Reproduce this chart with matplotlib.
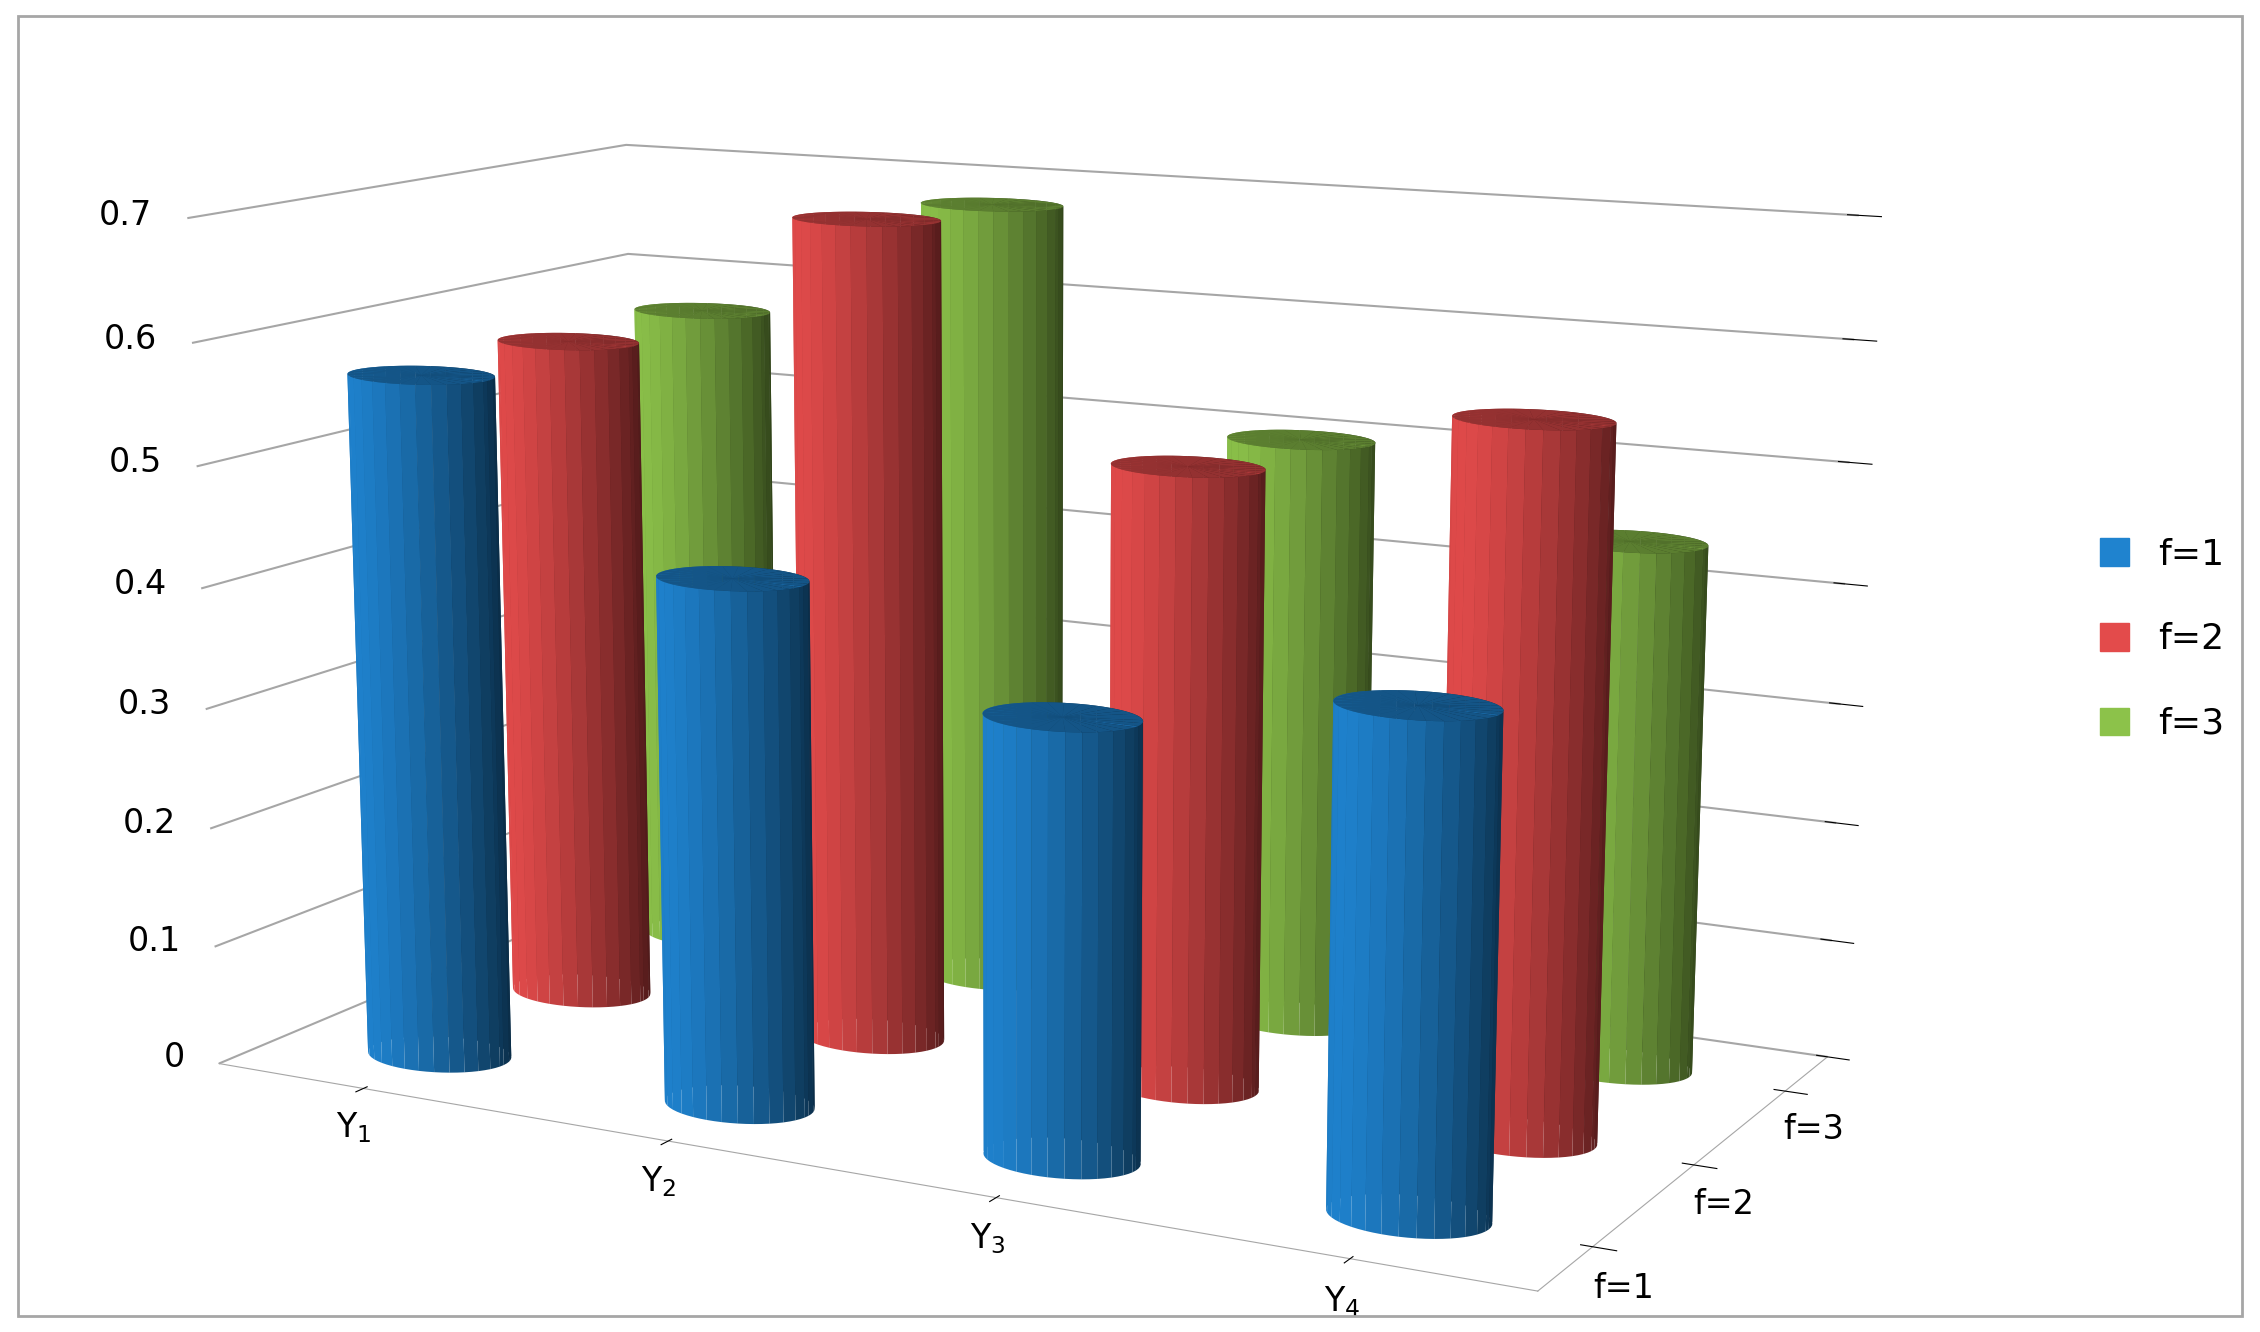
import numpy as np
import matplotlib
matplotlib.use("Agg")
import matplotlib.pyplot as plt
from matplotlib.patches import Patch, Rectangle

categories = ["Y$_1$", "Y$_2$", "Y$_3$", "Y$_4$"]
series = ["f=1", "f=2", "f=3"]
f1 = [0.57, 0.43, 0.35, 0.39]
f2 = [0.57, 0.69, 0.51, 0.57]
f3 = [0.57, 0.68, 0.50, 0.44]
colors = ["#1f83cf", "#e34b4b", "#8cc24a"]
yticks = [0, 0.1, 0.2, 0.3, 0.4, 0.5, 0.6, 0.7]

fig = plt.figure(figsize=(22.6, 13.32), dpi=100)
ax = fig.add_axes([-0.02, -0.04, 0.93, 1.08], projection="3d")
ax.set_proj_type("persp", focal_length=0.6)

def cylinder(cx, cy, h, color, r=0.22):
    th = np.linspace(0, 2*np.pi, 60)
    z = np.array([0, h])
    T, Z = np.meshgrid(th, z)
    X = cx + r*np.cos(T)
    Y = cy + r*np.sin(T)
    ax.plot_surface(X, Y, Z, color=color, shade=True, linewidth=0, antialiased=True)
    rr = np.array([0, r])
    R, T2 = np.meshgrid(rr, th)
    ax.plot_surface(cx + R*np.cos(T2), cy + R*np.sin(T2), np.full_like(R, h),
                    color=color, shade=True, linewidth=0)

data = [f1, f2, f3]
for j in reversed(range(3)):
    for i in range(4):
        cylinder(i, j, data[j][i], colors[j])

ax.set_xlim(-0.5, 3.5)
ax.set_ylim(-0.5, 2.5)
ax.set_zlim(0, 0.7)
ax.set_xticks(range(4))
ax.set_xticklabels(categories, fontsize=24)
ax.set_yticks(range(3))
ax.set_yticklabels(series, fontsize=24)
ax.set_zticks(yticks)
ax.set_zticklabels([])
ax.tick_params(axis="z", length=0)
for v in yticks:
    ax.text(-0.62, -0.5, v, f"{v:g}", fontsize=24, ha="right", va="center")
ax.plot([-0.5, -0.5], [-0.5, -0.5], [0, 0.7], color="#a6a6a6", lw=1.5)
for a in (ax.xaxis, ax.yaxis, ax.zaxis):
    a.set_pane_color((1, 1, 1, 0))
    a._axinfo["grid"]["color"] = "#a6a6a6"
    a._axinfo["grid"]["linewidth"] = 1.5
    a.line.set_color("#a6a6a6")
ax.zaxis.line.set_alpha(0)
ax.xaxis._axinfo["grid"]["linewidth"] = 0
ax.yaxis._axinfo["grid"]["linewidth"] = 0
ax.set_box_aspect((4, 2.2, 2.4), zoom=1.25)
ax.view_init(elev=12, azim=-62)

handles = [Patch(color=c, label=s) for c, s in zip(colors, series)]
fig.legend(handles=handles, loc="center left", bbox_to_anchor=(0.915, 0.52),
           frameon=False, fontsize=26, handlelength=0.8, handleheight=0.8, labelspacing=1.4)
fig.patches.append(Rectangle((0.008, 0.012), 0.984, 0.976, transform=fig.transFigure,
                             fill=False, edgecolor="#a6a6a6", linewidth=2))
fig.savefig("out.png", dpi=100)
